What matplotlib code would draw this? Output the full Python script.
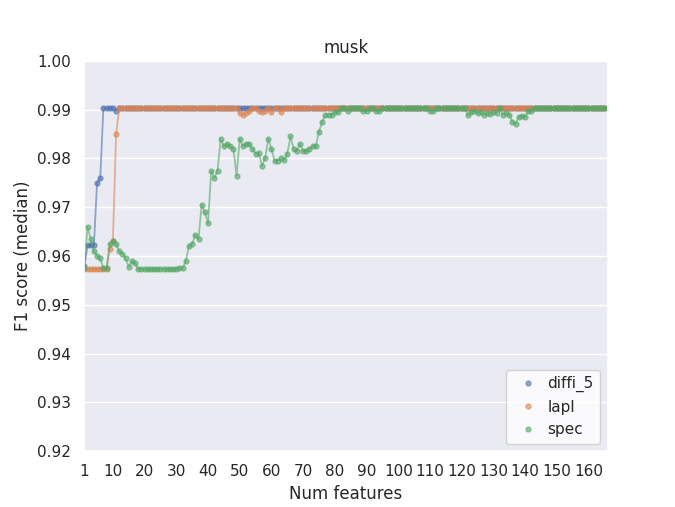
import numpy as np
import matplotlib
matplotlib.use("Agg")
import matplotlib.pyplot as plt
import seaborn as sns

sns.set_theme(style="darkgrid")

n_features = list(range(1, 167))

B = 0.9903
diffi_5 = [0.958, 0.9622, 0.9622, 0.9622, 0.975, 0.976, B, B, B, B, 0.9898] + [B] * 155
lapl = [0.9573] * 8 + [0.9615, 0.963, 0.985] + [B] * 155
for i, v in {50: 0.9893, 51: 0.989, 52: 0.9893, 53: 0.9898, 56: 0.9898, 57: 0.9896, 58: 0.9898,
             60: 0.9895, 63: 0.9895}.items():
    lapl[i - 1] = v

spec_head = [0.9575, 0.966, 0.9635, 0.961, 0.960, 0.9595, 0.9575, 0.9575, 0.9625, 0.963,
             0.9625, 0.961, 0.9605, 0.9595, 0.9578, 0.959, 0.9585] + [0.9573] * 13 + [
             0.9576, 0.9575, 0.959, 0.962, 0.9625, 0.9643, 0.9635, 0.9705, 0.969, 0.9667,
             0.9775, 0.976, 0.9775, 0.984, 0.9825, 0.983, 0.9825, 0.982, 0.9765, 0.984,
             0.9825, 0.983, 0.983, 0.982, 0.981, 0.9812, 0.9785, 0.980, 0.984, 0.982,
             0.9795, 0.9795, 0.980, 0.9797, 0.981, 0.9845, 0.982, 0.9815, 0.983, 0.9815,
             0.9815, 0.982, 0.9825, 0.9825, 0.9855, 0.9875, 0.9888, 0.989, 0.989, 0.9895, 0.9895]
spec = spec_head + [B] * (166 - len(spec_head))
for i, v in {84: 0.9898, 89: 0.9897, 90: 0.9898, 93: 0.9897, 94: 0.9898, 110: 0.9898, 111: 0.9898,
             122: 0.9888, 123: 0.9895, 124: 0.9897, 125: 0.9893, 126: 0.9895, 127: 0.989,
             128: 0.9893, 129: 0.9892, 130: 0.9895, 131: 0.9893, 133: 0.989, 134: 0.9893,
             135: 0.989, 136: 0.9875, 137: 0.987, 138: 0.9885, 139: 0.9887, 140: 0.9885,
             141: 0.9898, 142: 0.9898}.items():
    spec[i - 1] = v

series = [("diffi_5", diffi_5, "#4c72b0"), ("lapl", lapl, "#dd8452"), ("spec", spec, "#55a868")]

fig, ax = plt.subplots(figsize=(6.75, 5.07), dpi=100)
for name, vals, c in series:
    ax.plot(n_features, vals, "-", color=c, alpha=0.6, lw=1.3)
    ax.plot(n_features, vals, "o", color=c, alpha=0.6, ms=3.5, label=name)

ax.grid(False, axis="x")
ax.set_xlim(1, 166)
ax.set_ylim(0.92, 1.0)
ax.set_xticks([1] + list(range(10, 161, 10)))
ax.set_yticks(np.arange(0.92, 1.0001, 0.01))
ax.set_yticklabels([f"{v:.2f}" for v in np.arange(0.92, 1.0001, 0.01)])
ax.set_xlabel("Num features")
ax.set_ylabel("F1 score (median)")
ax.set_title("musk")
ax.legend(loc="lower right", facecolor="white", handletextpad=0.3)
fig.subplots_adjust(left=0.125, right=0.9, top=0.88, bottom=0.11)
fig.savefig("out.png")
